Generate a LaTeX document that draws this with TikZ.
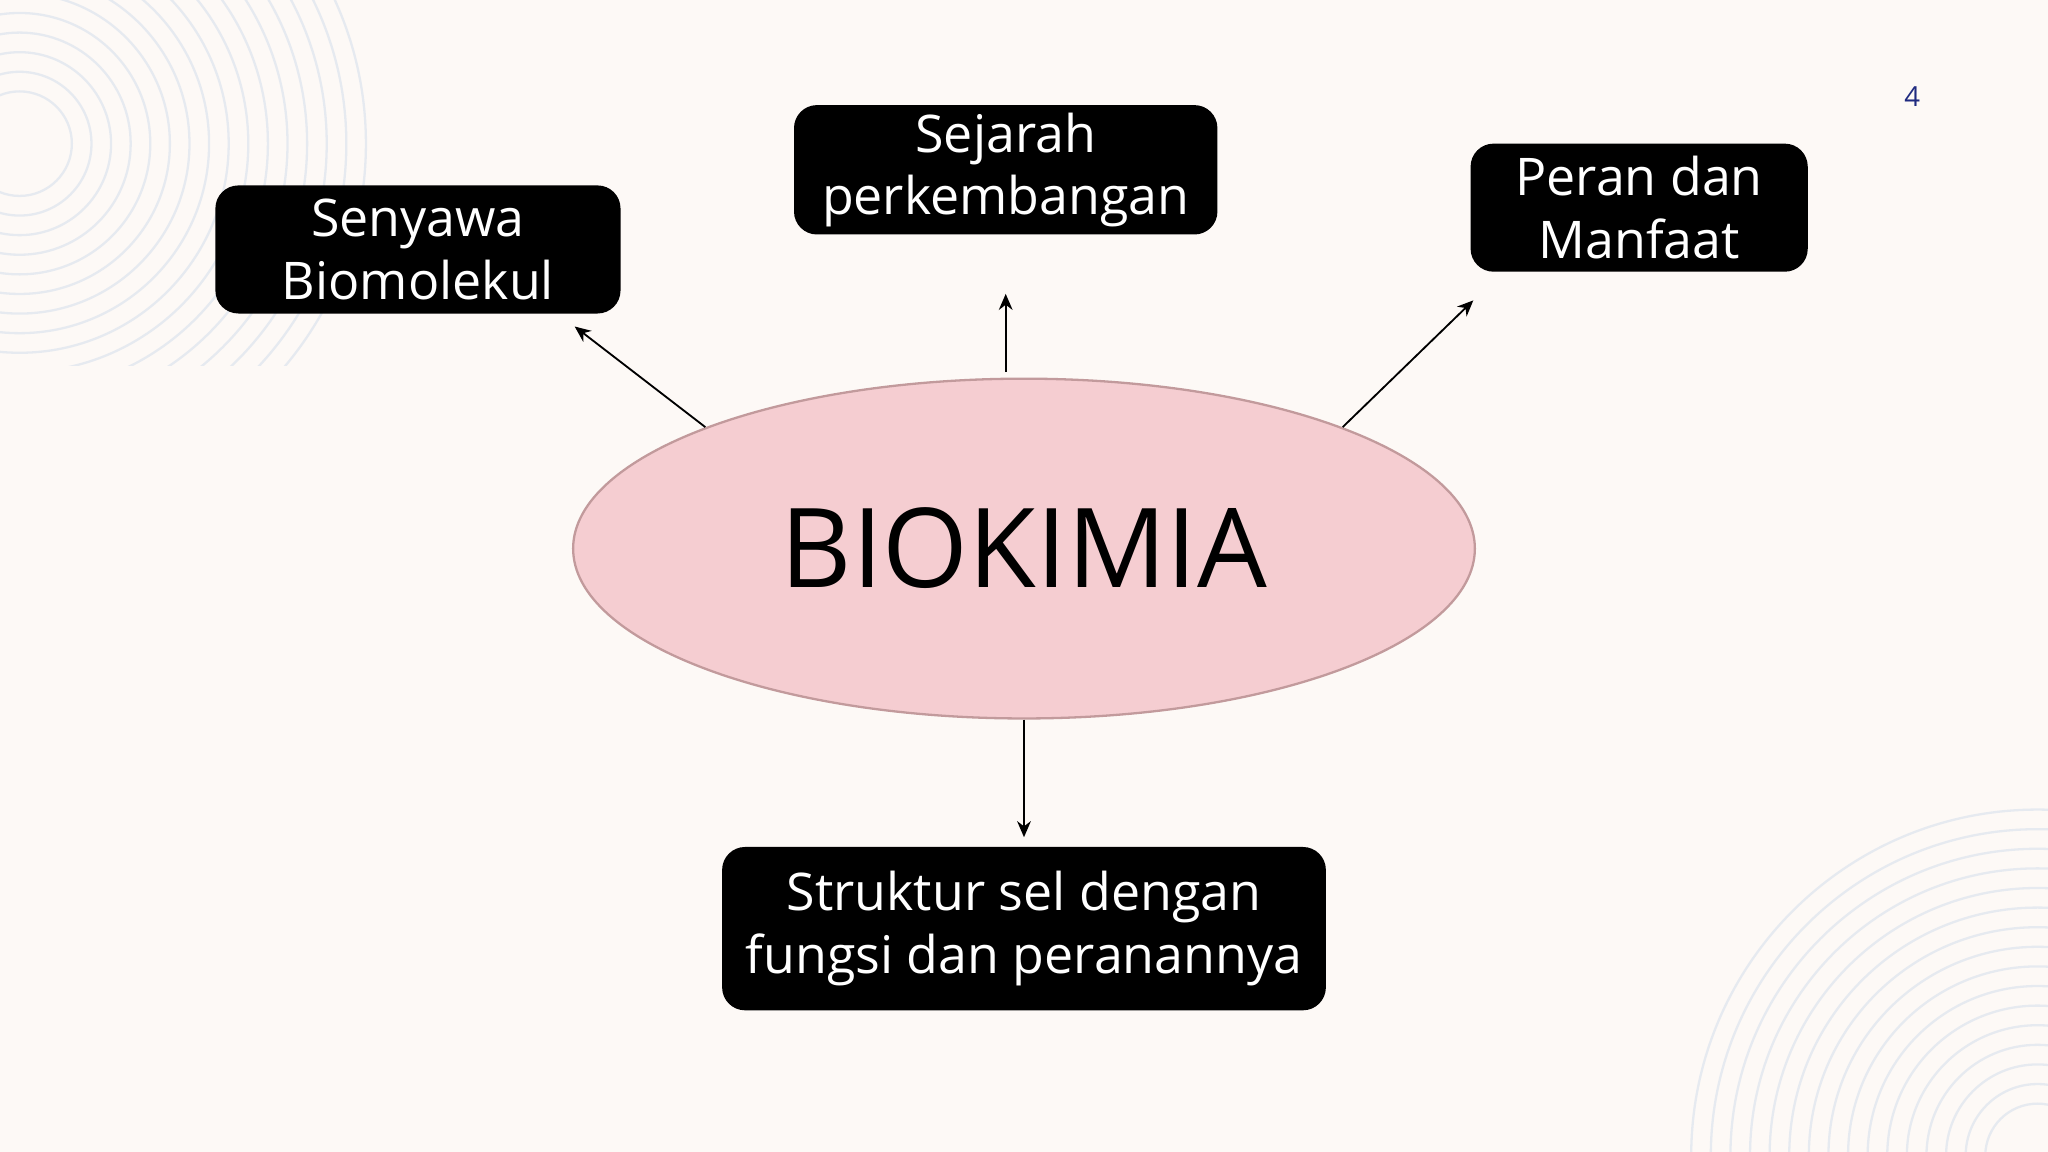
\documentclass[tikz,border=0pt]{standalone}
\usepackage{fontspec}
\setmainfont{Open Sans}
\usetikzlibrary{arrows.meta,shapes.geometric}
\definecolor{bg}{HTML}{FDF9F6}
\definecolor{pinkf}{HTML}{F5CDD1}
\definecolor{pinkd}{HTML}{C29A9C}
\definecolor{deco}{HTML}{E6EAF0}
\definecolor{navy}{HTML}{1F2A80}
\tikzset{
 box/.style={fill=black,text=white,rounded corners=5pt,align=center,inner sep=0pt,font=\fontsize{11.3}{13.6}\selectfont},
 conn/.style={-{Stealth[length=3.5pt,width=3pt]},line width=0.4pt}
}
\begin{document}
\begin{tikzpicture}[x=0.01cm,y=-0.01cm]
\fill[bg] (0,0) rectangle (1568,882);
\useasboundingbox (0,0) rectangle (1568,882);
\begin{scope}
\clip (0,0) rectangle (300,280);
\foreach \r in {0.4,0.55,...,2.8} \draw[deco,line width=0.5pt] (15,110) circle[radius=\r cm];
\end{scope}
\begin{scope}
\clip (1260,590) rectangle (1568,882);
\foreach \r in {0.4,0.55,...,2.8} \draw[deco,line width=0.5pt] (1560,885) circle[radius=\r cm];
\end{scope}
\node[ellipse,fill=pinkf,draw=pinkd,line width=0.5pt,minimum width=6.9cm,minimum height=2.6cm,inner sep=0pt,font=\fontsize{24}{29}\selectfont] (bio) at (784,420) {BIOKIMIA};
\node[box,minimum width=3.10cm,minimum height=0.98cm] (sen) at (320,191) {Senyawa\\Biomolekul};
\node[box,minimum width=3.24cm,minimum height=0.99cm] (sej) at (770,130) {Sejarah\\perkembangan};
\node[box,minimum width=2.58cm,minimum height=0.98cm] (per) at (1255,159) {Peran dan\\Manfaat};
\node[box,minimum width=4.62cm,minimum height=1.25cm] (str) at (784,711) {Struktur sel dengan\\fungsi dan peranannya};
\node[text=navy,font=\fontsize{6}{7}\selectfont] (pg) at (1464,74) {4};
\coordinate (a1) at (440,250);
\coordinate (a2) at (770,225);
\coordinate (a3) at (1128,230);
\coordinate (a4) at (784,641);
\draw[conn] (540,327) -- (a1);
\draw[conn] (770,285) -- (a2);
\draw[conn] (1028,327) -- (a3);
\draw[conn] (bio.south) -- (a4);
\end{tikzpicture}
\end{document}
